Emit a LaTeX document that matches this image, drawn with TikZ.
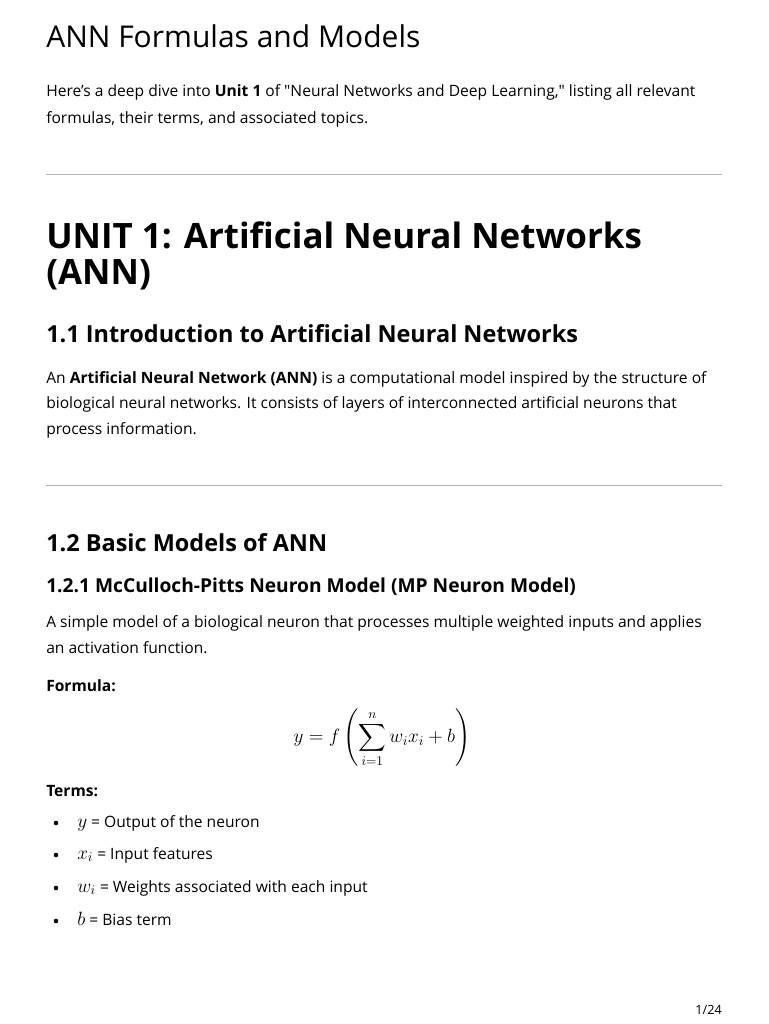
\documentclass[tikz,border=0pt]{standalone}
\usepackage{amsmath}
\usepackage{fontspec}
\setmainfont{Open Sans}
\newcommand{\mbig}[1]{{\fontsize{14}{16}\selectfont$#1$}}
\begin{document}
\begin{tikzpicture}[x=0.75pt,y=-0.75pt,
  txt/.style={anchor=base west,inner sep=0pt,font=\fontsize{11.7}{13}\selectfont},
  rulel/.style={draw=black!30,line width=0.6pt}]
\useasboundingbox[fill=white] (0,0) rectangle (768,1024);
\node[txt,font=\fontsize{22.5}{25}\selectfont] (t) at (46,48) {ANN Formulas and Models};
\node[txt] (p1) at (46,97) {Here's a deep dive into \textbf{Unit 1} of \textquotedbl Neural Networks and Deep Learning,\textquotedbl\ listing all relevant};
\node[txt] (p2) at (46,123) {formulas, their terms, and associated topics.};
\draw[rulel] (46,174) -- (722,174);
\node[txt,font=\fontsize{26.2}{30}\bfseries\selectfont] (u1) at (46,248) {UNIT 1: Artificial Neural Networks};
\node[txt,font=\fontsize{26.2}{30}\bfseries\selectfont] (u2) at (46,284) {(ANN)};
\node[txt,font=\fontsize{17.6}{20}\bfseries\selectfont] (h11) at (46,342) {1.1 Introduction to Artificial Neural Networks};
\node[txt] (q1) at (46,383) {An \textbf{Artificial Neural Network (ANN)} is a computational model inspired by the structure of};
\node[txt] (q2) at (46,408) {biological neural networks. It consists of layers of interconnected artificial neurons that};
\node[txt] (q3) at (46,434) {process information.};
\draw[rulel] (46,485) -- (722,485);
\node[txt,font=\fontsize{17.6}{20}\bfseries\selectfont] (h12) at (46,551) {1.2 Basic Models of ANN};
\node[txt,font=\fontsize{14.4}{16}\bfseries\selectfont] (h121) at (46,592) {1.2.1 McCulloch-Pitts Neuron Model (MP Neuron Model)};
\node[txt] (r1) at (46,627) {A simple model of a biological neuron that processes multiple weighted inputs and applies};
\node[txt] (r2) at (46,653) {an activation function.};
\node[txt] (f) at (46,691) {\textbf{Formula:}};
\node[inner sep=0pt,font=\fontsize{14.6}{16}\selectfont] (eq) at (382,738) {$\displaystyle y = f\left(\sum_{i=1}^{n} w_i x_i + b\right)$};
\node[txt] (tm) at (46,796) {\textbf{Terms:}};
\foreach \yy/\tt [count=\k] in {827/{\mbig{y} = Output of the neuron},859/{\mbig{x_i} = Input features},892/{\mbig{w_i} = Weights associated with each input},925/{\mbig{b} = Bias term}}{
  \fill (56,\yy-4) circle (2.3);
  \node[txt] (b\k) at (77,\yy) {\tt};
}
\node[anchor=base east,inner sep=0pt,font=\fontsize{9.5}{11}\selectfont] (pg) at (722,1014) {1/24};
\end{tikzpicture}
\end{document}
